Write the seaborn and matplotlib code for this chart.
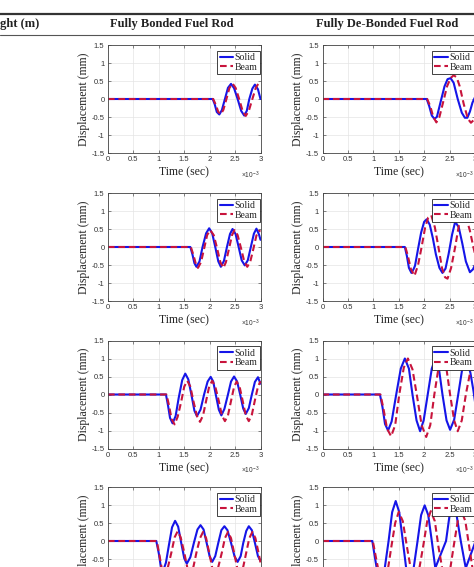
import matplotlib
matplotlib.use("Agg")
import matplotlib.pyplot as plt
from matplotlib.lines import Line2D
import seaborn as sns
import pandas as pd

# time in units of 1e-3 s, displacement in mm
# row 1 -- fully bonded
tb1_solid = [0, 2.06, 2.10, 2.14, 2.19, 2.24, 2.30, 2.36, 2.42, 2.48, 2.55, 2.62, 2.68, 2.73, 2.78, 2.84, 2.89, 2.95, 3.0]
db1_solid = [0, 0, -0.15, -0.36, -0.43, -0.31, 0.0, 0.31, 0.42, 0.30, 0.0, -0.33, -0.46, -0.33, 0.0, 0.29, 0.40, 0.27, 0.0]
tb1_beam = [0, 2.07, 2.12, 2.17, 2.22, 2.27, 2.33, 2.39, 2.45, 2.51, 2.58, 2.65, 2.71, 2.77, 2.84, 2.91, 2.97, 3.0]
db1_beam = [0, 0, -0.16, -0.36, -0.42, -0.30, 0.0, 0.31, 0.43, 0.31, 0.0, -0.34, -0.47, -0.33, 0.0, 0.32, 0.45, 0.44]
# row 1 -- fully de-bonded
td1_solid = [0, 2.05, 2.10, 2.15, 2.20, 2.25, 2.32, 2.40, 2.46, 2.52, 2.58, 2.66, 2.74, 2.80, 2.85, 2.90, 2.95, 3.0]
dd1_solid = [0, 0, -0.20, -0.46, -0.55, -0.50, -0.10, 0.35, 0.55, 0.58, 0.45, 0.0, -0.38, -0.52, -0.52, -0.35, -0.10, 0.05]
td1_beam = [0, 2.06, 2.12, 2.18, 2.24, 2.30, 2.38, 2.45, 2.52, 2.58, 2.64, 2.70, 2.78, 2.86, 2.92, 3.0]
dd1_beam = [0, 0, -0.20, -0.50, -0.65, -0.50, -0.05, 0.35, 0.58, 0.66, 0.60, 0.35, -0.15, -0.55, -0.66, -0.55]

# row 2
tb2_solid = [0, 1.62, 1.66, 1.70, 1.74, 1.80, 1.86, 1.93, 1.99, 2.05, 2.11, 2.17, 2.22, 2.28, 2.34, 2.40, 2.45, 2.51,
             2.57, 2.63, 2.69, 2.75, 2.81, 2.87, 2.92, 2.97, 3.0]
db2_solid = [0, 0, -0.20, -0.45, -0.55, -0.40, 0.0, 0.38, 0.52, 0.38, 0.0, -0.40, -0.55, -0.39, 0.0, 0.36, 0.50, 0.36,
             0.0, -0.37, -0.51, -0.37, 0.0, 0.37, 0.51, 0.35, 0.20]
tb2_beam = [0, 1.63, 1.68, 1.73, 1.77, 1.83, 1.89, 1.95, 2.01, 2.08, 2.14, 2.21, 2.27, 2.32, 2.38, 2.44, 2.49, 2.55,
            2.62, 2.68, 2.74, 2.80, 2.86, 2.92, 2.97, 3.0]
db2_beam = [0, 0, -0.22, -0.48, -0.58, -0.42, -0.05, 0.33, 0.47, 0.33, 0.0, -0.42, -0.58, -0.42, -0.05, 0.33, 0.47, 0.33,
            -0.05, -0.40, -0.55, -0.40, -0.05, 0.32, 0.45, 0.43]
td2_solid = [0, 1.62, 1.66, 1.70, 1.75, 1.79, 1.82, 1.88, 1.94, 2.00, 2.05, 2.11, 2.17, 2.23, 2.30, 2.36, 2.42, 2.48,
             2.55, 2.61, 2.68, 2.75, 2.82, 2.90, 2.96, 3.0]
dd2_solid = [0, 0, -0.25, -0.58, -0.72, -0.62, -0.52, -0.05, 0.40, 0.70, 0.77, 0.62, 0.25, -0.20, -0.58, -0.72, -0.60, -0.20,
             0.35, 0.70, 0.55, 0.10, -0.40, -0.70, -0.62, -0.50]
td2_beam = [0, 1.63, 1.68, 1.74, 1.81, 1.88, 1.95, 2.02, 2.08, 2.14, 2.21, 2.28, 2.35, 2.41, 2.46, 2.53, 2.61, 2.68,
            2.74, 2.80, 2.86, 2.90, 2.96, 3.0]
dd2_beam = [0, 0, -0.25, -0.62, -0.80, -0.50, 0.0, 0.55, 0.82, 0.88, 0.55, 0.0, -0.58, -0.84, -0.88, -0.58, 0.0, 0.58,
            0.85, 0.90, 0.65, 0.45, 0.05, -0.20]

# row 3
tb3_solid = [0, 1.14, 1.18, 1.22, 1.27, 1.33, 1.39, 1.46, 1.52, 1.58, 1.64, 1.70, 1.75, 1.82, 1.89, 1.96, 2.02, 2.07,
             2.12, 2.18, 2.23, 2.29, 2.36, 2.42, 2.48, 2.54, 2.60, 2.66, 2.71, 2.77, 2.83, 2.89, 2.95, 3.0]
db3_solid = [0, 0, -0.30, -0.65, -0.80, -0.60, -0.10, 0.40, 0.58, 0.42, 0.0, -0.45, -0.60, -0.42, 0.0, 0.36, 0.49, 0.36,
             0.0, -0.42, -0.58, -0.40, 0.0, 0.36, 0.50, 0.36, 0.0, -0.39, -0.54, -0.38, 0.0, 0.35, 0.48, 0.30]
tb3_beam = [0, 1.15, 1.20, 1.25, 1.31, 1.37, 1.44, 1.50, 1.56, 1.62, 1.68, 1.75, 1.81, 1.87, 1.93, 1.99, 2.05, 2.11,
            2.18, 2.24, 2.30, 2.36, 2.42, 2.48, 2.53, 2.59, 2.65, 2.71, 2.77, 2.83, 2.89, 2.95, 3.0]
db3_beam = [0, 0, -0.30, -0.68, -0.83, -0.62, -0.20, 0.22, 0.38, 0.22, -0.18, -0.60, -0.76, -0.58, -0.18, 0.22, 0.38, 0.22,
            -0.18, -0.58, -0.74, -0.58, -0.18, 0.21, 0.36, 0.21, -0.18, -0.58, -0.74, -0.56, -0.16, 0.22, 0.37]
td3_solid = [0, 1.13, 1.18, 1.23, 1.29, 1.36, 1.45, 1.54, 1.62, 1.70, 1.77, 1.85, 1.92, 1.99, 2.07, 2.15, 2.22, 2.29,
             2.36, 2.44, 2.51, 2.59, 2.67, 2.75, 2.83, 2.91, 2.97, 3.0]
dd3_solid = [0, 0, -0.35, -0.82, -1.00, -0.75, 0.0, 0.72, 1.00, 0.72, 0.0, -0.72, -1.02, -0.72, 0.0, 0.72, 1.00, 0.72,
             0.0, -0.72, -0.98, -0.70, 0.0, 0.72, 1.00, 0.60, 0.10, -0.20]
td3_beam = [0, 1.14, 1.20, 1.27, 1.35, 1.43, 1.51, 1.60, 1.68, 1.77, 1.86, 1.95, 2.04, 2.12, 2.20, 2.28, 2.36, 2.44,
            2.51, 2.59, 2.66, 2.74, 2.82, 2.92, 3.0]
dd3_beam = [0, 0, -0.40, -0.95, -1.16, -0.85, 0.0, 0.75, 1.00, 0.70, -0.05, -0.85, -1.18, -0.85, 0.0, 0.72, 1.00, 0.70,
            0.0, -0.72, -1.02, -0.72, 0.0, 0.73, 0.95]

# row 4
tb4_solid = [0, 0.95, 1.00, 1.04, 1.08, 1.14, 1.20, 1.26, 1.32, 1.38, 1.44, 1.50, 1.55, 1.62, 1.69, 1.76, 1.82, 1.88,
             1.94, 2.00, 2.05, 2.11, 2.17, 2.23, 2.29, 2.35, 2.42, 2.49, 2.55, 2.61, 2.66, 2.72, 2.77, 2.83, 2.89,
             2.95, 3.0]
db4_solid = [0, 0, -0.35, -0.72, -0.85, -0.60, -0.10, 0.38, 0.56, 0.40, -0.05, -0.48, -0.63, -0.45, -0.05, 0.32, 0.44, 0.32,
             -0.05, -0.43, -0.58, -0.42, -0.05, 0.30, 0.41, 0.30, -0.05, -0.43, -0.58, -0.42, -0.06, 0.28, 0.41, 0.30, -0.05,
             -0.42, -0.55]
tb4_beam = [0, 0.96, 1.01, 1.06, 1.12, 1.18, 1.25, 1.31, 1.37, 1.43, 1.50, 1.56, 1.62, 1.68, 1.74, 1.81, 1.87, 1.93,
            1.99, 2.05, 2.11, 2.17, 2.24, 2.30, 2.36, 2.42, 2.48, 2.54, 2.60, 2.66, 2.72, 2.78, 2.84, 2.90, 2.96, 3.0]
db4_beam = [0, 0, -0.38, -0.78, -0.92, -0.72, -0.30, 0.10, 0.27, 0.10, -0.32, -0.74, -0.88, -0.72, -0.32, 0.08, 0.25, 0.08,
            -0.32, -0.74, -0.88, -0.72, -0.32, 0.08, 0.25, 0.08, -0.32, -0.74, -0.88, -0.72, -0.32, 0.08, 0.25, 0.08, -0.32,
            -0.60]
td4_solid = [0, 0.98, 1.03, 1.09, 1.15, 1.22, 1.30, 1.37, 1.44, 1.51, 1.58, 1.65, 1.72, 1.79, 1.87, 1.94, 2.01, 2.08,
             2.15, 2.22, 2.29, 2.36, 2.43, 2.50, 2.57, 2.64, 2.72, 2.79, 2.86, 2.93, 3.0]
dd4_solid = [0, 0, -0.45, -0.95, -1.10, -0.80, 0.0, 0.80, 1.11, 0.80, 0.0, -0.80, -1.10, -0.78, 0.0, 0.72, 0.99, 0.72,
             0.0, -0.76, -1.05, -0.75, 0.0, 0.72, 1.00, 0.70, 0.0, -0.54, -1.05, -0.75, -0.05]
td4_beam = [0, 0.99, 1.05, 1.12, 1.20, 1.28, 1.35, 1.43, 1.50, 1.58, 1.66, 1.74, 1.82, 1.90, 1.98, 2.06, 2.13, 2.21,
            2.28, 2.36, 2.43, 2.51, 2.58, 2.66, 2.73, 2.81, 2.88, 2.95, 3.0]
dd4_beam = [0, 0, -0.45, -0.95, -1.15, -0.85, -0.20, 0.50, 0.81, 0.55, -0.15, -0.80, -1.10, -0.80, -0.15, 0.55, 0.83, 0.55,
            -0.15, -0.80, -1.10, -0.80, -0.15, 0.55, 0.85, 0.55, -0.10, -0.75, -1.00]

column_titles = ["Fully Bonded Fuel Rod", "Fully De-Bonded Fuel Rod"]
first_col_title = "ght (m)"
xticks = [0, 0.5, 1, 1.5, 2, 2.5, 3]
xtick_labels = ["0", "0.5", "1", "1.5", "2", "2.5", "3"]
yticks = [-1.5, -1, -0.5, 0, 0.5, 1, 1.5]
ytick_labels = ["-1.5", "-1", "-0.5", "0", "0.5", "1", "1.5"]

panels = [
    [(tb1_solid, db1_solid, tb1_beam, db1_beam), (td1_solid, dd1_solid, td1_beam, dd1_beam)],
    [(tb2_solid, db2_solid, tb2_beam, db2_beam), (td2_solid, dd2_solid, td2_beam, dd2_beam)],
    [(tb3_solid, db3_solid, tb3_beam, db3_beam), (td3_solid, dd3_solid, td3_beam, dd3_beam)],
    [(tb4_solid, db4_solid, tb4_beam, db4_beam), (td4_solid, dd4_solid, td4_beam, dd4_beam)],
]

sns.set_theme(style="white")
plt.rcParams["mathtext.fontset"] = "custom"
plt.rcParams["mathtext.rm"] = "Liberation Sans"
plt.rcParams["mathtext.it"] = "Liberation Sans"

W, H = 474, 567
fig = plt.figure(figsize=(W / 100, H / 100), dpi=100)
fig.patch.set_facecolor("white")

serif = "Liberation Serif"
sans = "Liberation Sans"
palette = {"Solid": "#1515e8", "Beam": "#c8143c"}
dashes = {"Solid": "", "Beam": (3.2, 1.8)}

col_x = [108, 322.5]
row_top = [45, 193, 340.5, 487]
ax_w, ax_h = 152.5, 108

for r, row in enumerate(panels):
    for c, (ts, ds, tb, db) in enumerate(row):
        ax = fig.add_axes([col_x[c] / W, 1 - (row_top[r] + ax_h) / H, ax_w / W, ax_h / H])
        df = pd.concat([
            pd.DataFrame({"t": ts, "d": ds, "model": "Solid"}),
            pd.DataFrame({"t": tb, "d": db, "model": "Beam"}),
        ])
        sns.lineplot(data=df, x="t", y="d", hue="model", style="model", palette=palette,
                     dashes=dashes, estimator=None, linewidth=1.5, ax=ax)
        ax.set_xlim(0, 3)
        ax.set_ylim(-1.5, 1.5)
        ax.set_xticks(xticks)
        ax.set_xticklabels(xtick_labels, family=sans, fontsize=5.5, color="#333333")
        ax.set_yticks(yticks)
        ax.set_yticklabels(ytick_labels, family=sans, fontsize=5.5, color="#333333")
        ax.tick_params(direction="in", length=2.5, width=0.5, color="#555555", pad=2.5,
                       top=True, right=True, bottom=True, left=True)
        ax.grid(True, color="#e4e4e4", linewidth=0.5)
        for sp in ax.spines.values():
            sp.set_color("#444444")
            sp.set_linewidth(0.6)
        ax.set_xlabel("Time (sec)", family=serif, fontsize=8.5, color="#222222")
        ax.set_ylabel("Displacement (mm)", family=serif, fontsize=8.5, color="#222222")
        ax.xaxis.set_label_coords(0.5, -0.125)
        ax.yaxis.set_label_coords(-0.12, 0.5)
        ax.text(0.99, -0.205, r"$\times10^{-3}$", transform=ax.transAxes, ha="right", va="center",
                fontsize=4.8, color="#333333")
        handles, labels = ax.get_legend_handles_labels()
        leg = ax.legend(handles, labels, loc="upper right", bbox_to_anchor=(0.997, 0.945),
                        borderaxespad=0, frameon=True, fancybox=False, framealpha=1,
                        edgecolor="#222222", handlelength=1.4, handletextpad=0.15,
                        borderpad=0.25, labelspacing=0.05, prop={"family": serif, "size": 7})
        leg.get_frame().set_linewidth(0.6)

# table header
fig.add_artist(Line2D([0, 1], [1 - 14 / H, 1 - 14 / H], color="#333333", linewidth=1.6))
fig.add_artist(Line2D([0, 1], [1 - 34.5 / H, 1 - 34.5 / H], color="#555555", linewidth=0.8))
fig.text(0 / W, 1 - 24.5 / H, first_col_title, family=serif, weight="bold", fontsize=9,
         ha="left", va="center", color="#222222")
fig.text(172 / W, 1 - 24.5 / H, column_titles[0], family=serif, weight="bold", fontsize=9,
         ha="center", va="center", color="#222222")
fig.text(387 / W, 1 - 24.5 / H, column_titles[1], family=serif, weight="bold", fontsize=9,
         ha="center", va="center", color="#222222")

fig.savefig("out.png", dpi=100)
